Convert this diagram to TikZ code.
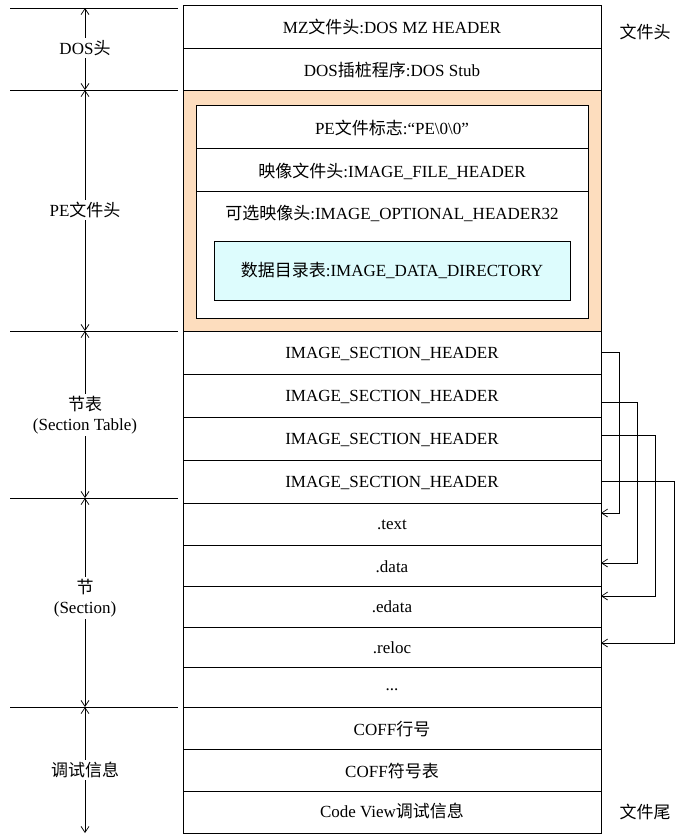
\documentclass[tikz,border=0pt]{standalone}
\usepackage{fontspec}
\setmainfont{Liberation Serif}
\newfontfamily\cjk{Noto Sans CJK SC}
\usetikzlibrary{arrows.meta}
\definecolor{peach}{HTML}{FDDDBE}
\definecolor{cyanbox}{HTML}{DDFCFD}
\begin{document}
\begin{tikzpicture}[x=1pt,y=-1pt,
  txt/.style={font=\fontsize{17}{20}\selectfont,inner sep=0pt},
  row/.style={line width=0.8pt},
  dim/.style={{Straight Barb[length=6pt,width=8pt]}-{Straight Barb[length=6pt,width=8pt]},line width=0.7pt},
  link/.style={-{Straight Barb[length=6pt,width=8pt]},line width=0.7pt}]
\useasboundingbox (0,0) rectangle (692,838);

% main column
\fill[peach] (183,90) rectangle (601,331);
\draw[fill=white,line width=1pt] (196,105) rectangle (588,318);
\draw[fill=cyanbox,line width=0.8pt] (214,241) rectangle (570,300);
\draw[line width=1pt] (183,5) rectangle (601,833);
\foreach \y in {48,90,331,374,417,460,503,545,586,627,667,707,749,791}
  \draw[row] (183,\y) -- (601,\y);
\foreach \y in {148,191}
  \draw[row] (196,\y) -- (588,\y);

\node[txt] (mz) at (392,27) {MZ{\cjk 文件头}:DOS MZ HEADER};
\node[txt] (stub) at (392,70) {DOS{\cjk 插桩程序}:DOS Stub};
\node[txt] (sig) at (392,128) {PE{\cjk 文件标志}:“PE\textbackslash0\textbackslash0”};
\node[txt] (fh) at (392,171) {{\cjk 映像文件头}:IMAGE\_FILE\_HEADER};
\node[txt] (oh) at (392,213) {{\cjk 可选映像头}:IMAGE\_OPTIONAL\_HEADER32};
\node[txt] (dd) at (392,270) {{\cjk 数据目录表}:IMAGE\_DATA\_DIRECTORY};
\node[txt] (sh1) at (392,354) {IMAGE\_SECTION\_HEADER};
\node[txt] (sh2) at (392,397) {IMAGE\_SECTION\_HEADER};
\node[txt] (sh3) at (392,440) {IMAGE\_SECTION\_HEADER};
\node[txt] (sh4) at (392,483) {IMAGE\_SECTION\_HEADER};
\node[txt] (text) at (392,525) {.text};
\node[txt] (data) at (392,567) {.data};
\node[txt] (edata) at (392,607) {.edata};
\node[txt] (reloc) at (392,648) {.reloc};
\node[txt] (dots) at (392,690) {...};
\node[txt] (coff1) at (392,729) {COFF{\cjk 行号}};
\node[txt] (coff2) at (392,771) {COFF{\cjk 符号表}};
\node[txt] (cv) at (392,811) {Code View{\cjk 调试信息}};

\node[txt] (head) at (645,32) {\cjk 文件头};
\node[txt] (tail) at (645,812) {\cjk 文件尾};

% left dimension lines
\foreach \y in {8,90,331,498,707}
  \draw[line width=0.8pt] (10,\y) -- (178,\y);
\coordinate (d0) at (85,8);
\coordinate (d1) at (85,90);
\coordinate (d2) at (85,331);
\coordinate (d3) at (85,498);
\coordinate (d4) at (85,707);
\coordinate (d5) at (85,833);
\draw[dim] (d0) -- (d1);
\draw[dim] (d1) -- (d2);
\draw[dim] (d2) -- (d3);
\draw[dim] (d3) -- (d4);
\draw[dim] (d4) -- (d5);
\node[txt,fill=white,inner sep=2pt] (ldos) at (85,48) {DOS{\cjk 头}};
\node[txt,fill=white,inner sep=2pt] (lpe) at (85,210) {PE{\cjk 文件头}};
\node[txt,fill=white,inner sep=2pt,align=center] (ltab) at (85,415) {{\cjk 节表}\\(Section Table)};
\node[txt,fill=white,inner sep=2pt,align=center] (lsec) at (85,598) {{\cjk 节}\\(Section)};
\node[txt,fill=white,inner sep=2pt] (ldbg) at (85,770) {\cjk 调试信息};

% section header -> section links
\foreach \i/\a/\b/\x in {1/352/513/619,2/402/563/637,3/435/596/655,4/481/643/674} {
  \coordinate (s\i) at (601,\a);
  \coordinate (t\i) at (601,\b);
  \draw[link] (s\i) -| (\x,\b) -- (t\i);
}
\end{tikzpicture}
\end{document}
